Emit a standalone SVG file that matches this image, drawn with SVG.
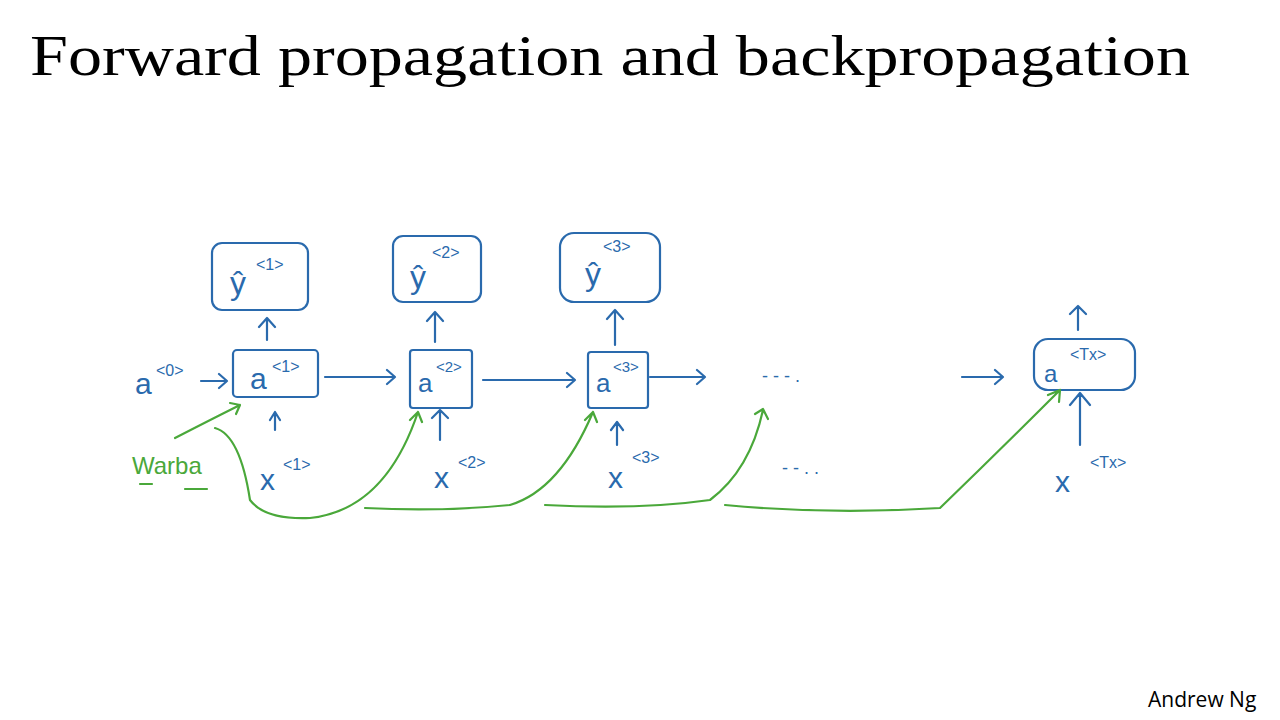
<svg xmlns="http://www.w3.org/2000/svg" width="1280" height="720" viewBox="0 0 1280 720">
<style>
.b{fill:none;stroke:#2a6aad;stroke-width:2.2;stroke-linecap:round;stroke-linejoin:round}
.g{fill:none;stroke:#4aa83a;stroke-width:2.2;stroke-linecap:round;stroke-linejoin:round}
.bt{fill:#2a6aad;font-family:"Liberation Sans",sans-serif}
.gt{fill:#4aa83a;font-family:"Liberation Sans",sans-serif}
</style>
<rect width="1280" height="720" fill="#fff"/>
<text x="30" y="75" font-family="Liberation Serif,serif" font-size="58" fill="#000" textLength="1160" lengthAdjust="spacingAndGlyphs">Forward propagation and backpropagation</text>
<text x="1148" y="707" font-family="Open Sans,Liberation Sans,sans-serif" font-size="21" fill="#000">Andrew Ng</text>
<g id="y1"><rect class="b" x="212" y="243" width="96" height="67" rx="10"/><text class="bt" x="230" y="294" font-size="32">ŷ</text><text class="bt" x="256" y="270" font-size="16">&lt;1&gt;</text></g>
<g id="y2"><rect class="b" x="393" y="236" width="88" height="66" rx="10"/><text class="bt" x="410" y="288" font-size="32">ŷ</text><text class="bt" x="432" y="258" font-size="16">&lt;2&gt;</text></g>
<g id="y3"><rect class="b" x="560" y="233" width="100" height="69" rx="14"/><text class="bt" x="585" y="285" font-size="32">ŷ</text><text class="bt" x="603" y="252" font-size="16">&lt;3&gt;</text></g>
<g id="a0"><text class="bt" x="135" y="394" font-size="30">a</text><text class="bt" x="156" y="376" font-size="16">&lt;0&gt;</text></g>
<g id="a1"><rect class="b" x="233" y="350" width="85" height="47" rx="4"/><text class="bt" x="250" y="389" font-size="30">a</text><text class="bt" x="272" y="372" font-size="16">&lt;1&gt;</text></g>
<g id="a2"><rect class="b" x="410" y="350" width="62" height="58" rx="3"/><text class="bt" x="418" y="392" font-size="26">a</text><text class="bt" x="436" y="372" font-size="15">&lt;2&gt;</text></g>
<g id="a3"><rect class="b" x="588" y="352" width="60" height="56" rx="3"/><text class="bt" x="596" y="392" font-size="26">a</text><text class="bt" x="613" y="372" font-size="15">&lt;3&gt;</text></g>
<g id="aT"><rect class="b" x="1034" y="339" width="101" height="51" rx="14"/><text class="bt" x="1044" y="382" font-size="24">a</text><text class="bt" x="1070" y="360" font-size="16">&lt;Tx&gt;</text></g>
<g id="x1"><text class="bt" x="260" y="490" font-size="30">x</text><text class="bt" x="283" y="470" font-size="16">&lt;1&gt;</text></g>
<g id="x2"><text class="bt" x="434" y="488" font-size="30">x</text><text class="bt" x="458" y="468" font-size="16">&lt;2&gt;</text></g>
<g id="x3"><text class="bt" x="608" y="488" font-size="30">x</text><text class="bt" x="632" y="463" font-size="16">&lt;3&gt;</text></g>
<g id="xT"><text class="bt" x="1055" y="492" font-size="30">x</text><text class="bt" x="1090" y="468" font-size="16">&lt;Tx&gt;</text></g>
<g id="w"><text class="gt" x="132" y="474" font-size="24">Warba</text><path class="g" d="M140 484h12M185 489h22"/></g>
<g id="dots" class="bt"><text x="762" y="382" font-size="18">- - - .</text><text x="782" y="474" font-size="18">- - . .</text></g>
<g id="connectors">
<path class="b" d="M267 340V318M259 327l8-9 8 9M435 342V312M427 321l8-9 8 9M615 345V310M607 319l8-9 8 9M1078 330V306M1070 314l8-8 8 8"/>
<path class="b" d="M201 381h26M219 374l8 7-8 7M325 377h70M387 370l8 7-8 7M483 380h92M567 373l8 7-8 7M650 377h55M697 370l8 7-8 7M962 377h41M995 370l8 7-8 7"/>
<path class="b" d="M275 430V412M270 420l5-8 5 8M440 440V410M432 418l8-8 8 8M617 445V422M611 430l6-8 6 8M1080 445V393M1070 405l10-12 10 12"/>
<path class="g" d="M175 438Q210 420 240 405M230 403l10 2-4 9"/>
<path class="g" d="M215 428Q240 435 250 500Q265 520 310 518Q385 510 418 412M410 420l8-8 4 10"/>
<path class="g" d="M365 508Q440 512 510 505Q560 490 593 412M585 420l8-8 4 10"/>
<path class="g" d="M545 505Q640 510 710 500Q750 470 763 410M755 414l8-5 5 10"/>
<path class="g" d="M725 505Q830 515 940 508Q1000 450 1060 390M1048 395l12-5-1 12"/>
</g>
</svg>
